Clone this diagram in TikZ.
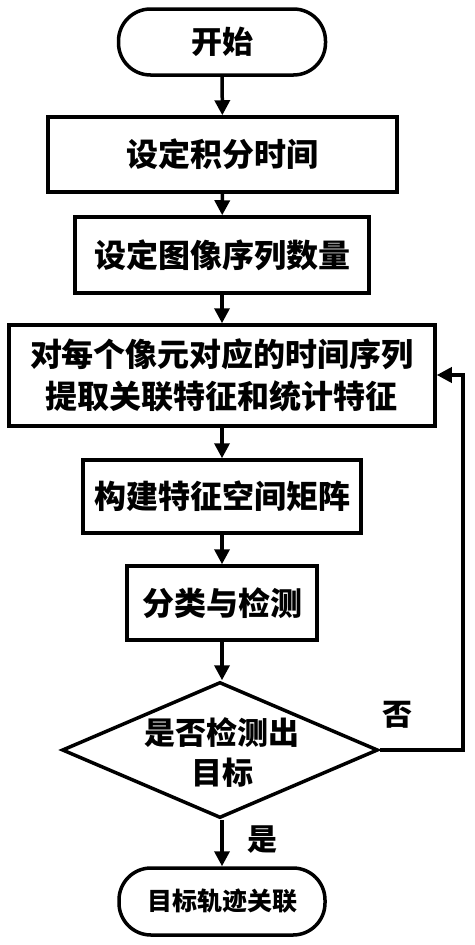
\documentclass[tikz,border=0pt]{standalone}
\usepackage{fontspec}
\newfontfamily\cjk{Noto Sans CJK SC}
\usetikzlibrary{shapes.geometric,arrows.meta}
\begin{document}
\begin{tikzpicture}[x=1pt,y=-1pt,
  lw/.style={line width=3.5pt},
  stadium/.style={draw,lw,rounded corners=32pt,inner sep=0pt,font=\cjk\bfseries\fontsize{25}{28}\selectfont},
  procbox/.style={draw,lw,inner sep=0pt,font=\cjk\bfseries\fontsize{32}{42}\selectfont,align=center},
  lbl/.style={font=\cjk\bfseries\fontsize{30}{36}\selectfont,inner sep=0pt},
  arr/.style={lw,-{Triangle[width=15pt,length=15pt]}}]
\useasboundingbox (0,0) rectangle (474,945);
\node[stadium,minimum width=207pt,minimum height=66pt,font=\cjk\bfseries\fontsize{31}{36}\selectfont] (s) at (222,42) {开始};
\node[procbox,minimum width=349pt,minimum height=75pt] (b1) at (222.5,154.5) {设定积分时间};
\node[procbox,minimum width=294pt,minimum height=76pt] (b2) at (222,255) {设定图像序列数量};
\node[procbox,minimum width=426pt,minimum height=101pt] (b3) at (222,375.5) {对每个像元对应的时间序列\\提取关联特征和统计特征};
\node[procbox,minimum width=278pt,minimum height=73pt] (b4) at (222,496.5) {构建特征空间矩阵};
\node[procbox,minimum width=190pt,minimum height=74pt] (b5) at (222,603) {分类与检测};
\node[diamond,draw,lw,inner sep=0pt,minimum width=316pt,minimum height=136pt] (d) at (220,750) {};
\node[lbl,align=center,font=\cjk\bfseries\fontsize{31}{40}\selectfont] (dt) at (222,752) {是否检测出\\目标};
\node[stadium,minimum width=206pt,minimum height=67pt] (e) at (222,901.5) {目标轨迹关联};
\coordinate (fb) at (463,375);
\node[lbl] (no) at (397,715) {否};
\node[lbl] (yes) at (262,840) {是};
\draw[arr] (s) -- (b1);
\draw[arr] (b1) -- (b2);
\draw[arr] (b2) -- (b3);
\draw[arr] (b3) -- (b4);
\draw[arr] (b4) -- (b5);
\draw[arr] (b5.south) -- (b5.south |- d.north);
\draw[arr] (d.south -| e.north) -- (e.north);
\draw[arr] (d.east) -| (fb) -- (b3.east |- fb);
\end{tikzpicture}
\end{document}
